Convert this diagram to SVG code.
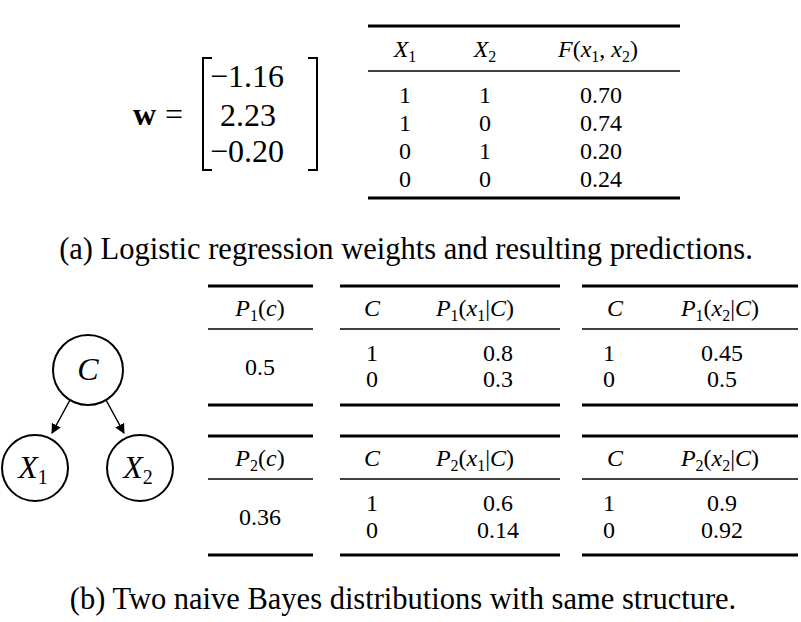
<svg xmlns="http://www.w3.org/2000/svg" width="801" height="622" viewBox="0 0 801 622">
<style>
text{font-family:"Liberation Serif","DejaVu Serif",serif;font-size:24px;fill:#000}
.m{font-style:italic}
.c{text-anchor:middle}
.cap{font-size:30.5px;text-anchor:middle}
.big{font-size:32px}
.thick{stroke:#000;stroke-width:3}
.thin{stroke:#000;stroke-width:1.5}
.n{fill:#fff;stroke:#000;stroke-width:2}
</style>
<defs><marker id="ah" markerWidth="10" markerHeight="10" refX="9" refY="5" orient="auto" markerUnits="userSpaceOnUse" viewBox="0 0 10 10"><path d="M0,0 L10,5 L0,10 z" fill="#000"/></marker></defs>
<g id="weights">
<text x="133" y="125" class="big" style="font-weight:bold">w</text>
<text x="165" y="125" class="big">=</text>
<path d="M212,58 H203 V170 H212 M308,58 H317 V170 H308" fill="none" stroke="#000" stroke-width="2"/>
<text x="210" y="87" class="big">−1.16</text>
<text x="220" y="126" class="big">2.23</text>
<text x="210" y="162" class="big">−0.20</text>
</g>
<g id="table-a">
<line x1="368" y1="26" x2="680" y2="26" class="thick"/>
<line x1="368" y1="71" x2="680" y2="71" class="thin"/>
<line x1="368" y1="198" x2="680" y2="198" class="thick"/>
<text x="405" y="57" class="c m">X<tspan font-size="16" dy="5" font-style="normal">1</tspan></text>
<text x="485" y="57" class="c m">X<tspan font-size="16" dy="5" font-style="normal">2</tspan></text>
<text x="598" y="57" class="c"><tspan class="m">F</tspan>(<tspan class="m">x</tspan><tspan font-size="16" dy="5">1</tspan><tspan dy="-5">, </tspan><tspan class="m">x</tspan><tspan font-size="16" dy="5">2</tspan><tspan dy="-5">)</tspan></text>
<text x="405" y="103" class="c">1</text><text x="485" y="103" class="c">1</text><text x="601" y="103" class="c">0.70</text>
<text x="405" y="131" class="c">1</text><text x="485" y="131" class="c">0</text><text x="601" y="131" class="c">0.74</text>
<text x="405" y="159" class="c">0</text><text x="485" y="159" class="c">1</text><text x="601" y="159" class="c">0.20</text>
<text x="405" y="187" class="c">0</text><text x="485" y="187" class="c">0</text><text x="601" y="187" class="c">0.24</text>
</g>
<text x="406" y="259" class="cap">(a) Logistic regression weights and resulting predictions.</text>
<g id="connectors">
<line x1="70" y1="400" x2="52" y2="433" stroke="#000" stroke-width="1.5" marker-end="url(#ah)"/>
<line x1="106" y1="400" x2="124" y2="433" stroke="#000" stroke-width="1.5" marker-end="url(#ah)"/>
</g>
<g id="node-C"><circle cx="88" cy="370" r="35" class="n"/><text x="88" y="380" class="c m big">C</text></g>
<g id="node-X1"><circle cx="35" cy="468" r="33" class="n"/><text x="33" y="478" class="c m big">X<tspan font-size="20" dy="6" font-style="normal">1</tspan></text></g>
<g id="node-X2"><circle cx="140" cy="468" r="33" class="n"/><text x="138" y="478" class="c m big">X<tspan font-size="20" dy="6" font-style="normal">2</tspan></text></g>
<g id="tables-b1">
<line x1="208" y1="286" x2="313" y2="286" class="thick"/><line x1="208" y1="329" x2="313" y2="329" class="thin"/><line x1="208" y1="405" x2="313" y2="405" class="thick"/>
<line x1="340" y1="286" x2="560" y2="286" class="thick"/><line x1="340" y1="329" x2="560" y2="329" class="thin"/><line x1="340" y1="405" x2="560" y2="405" class="thick"/>
<line x1="582" y1="286" x2="798" y2="286" class="thick"/><line x1="582" y1="329" x2="798" y2="329" class="thin"/><line x1="582" y1="405" x2="798" y2="405" class="thick"/>
<text x="260" y="316" class="c"><tspan class="m">P</tspan><tspan font-size="16" dy="5">1</tspan><tspan dy="-5">(</tspan><tspan class="m">c</tspan>)</text>
<text x="260" y="375" class="c">0.5</text>
<text x="372" y="316" class="c m">C</text>
<text x="475" y="316" class="c"><tspan class="m">P</tspan><tspan font-size="16" dy="5">1</tspan><tspan dy="-5">(</tspan><tspan class="m">x</tspan><tspan font-size="16" dy="5">1</tspan><tspan dy="-5">|</tspan><tspan class="m">C</tspan>)</text>
<text x="372" y="361" class="c">1</text><text x="498" y="361" class="c">0.8</text>
<text x="372" y="387" class="c">0</text><text x="498" y="387" class="c">0.3</text>
<text x="615" y="316" class="c m">C</text>
<text x="720" y="316" class="c"><tspan class="m">P</tspan><tspan font-size="16" dy="5">1</tspan><tspan dy="-5">(</tspan><tspan class="m">x</tspan><tspan font-size="16" dy="5">2</tspan><tspan dy="-5">|</tspan><tspan class="m">C</tspan>)</text>
<text x="609" y="361" class="c">1</text><text x="722" y="361" class="c">0.45</text>
<text x="609" y="387" class="c">0</text><text x="722" y="387" class="c">0.5</text>
</g>
<g id="tables-b2">
<line x1="208" y1="436" x2="313" y2="436" class="thick"/><line x1="208" y1="479" x2="313" y2="479" class="thin"/><line x1="208" y1="555" x2="313" y2="555" class="thick"/>
<line x1="340" y1="436" x2="560" y2="436" class="thick"/><line x1="340" y1="479" x2="560" y2="479" class="thin"/><line x1="340" y1="555" x2="560" y2="555" class="thick"/>
<line x1="582" y1="436" x2="798" y2="436" class="thick"/><line x1="582" y1="479" x2="798" y2="479" class="thin"/><line x1="582" y1="555" x2="798" y2="555" class="thick"/>
<text x="260" y="466" class="c"><tspan class="m">P</tspan><tspan font-size="16" dy="5">2</tspan><tspan dy="-5">(</tspan><tspan class="m">c</tspan>)</text>
<text x="260" y="525" class="c">0.36</text>
<text x="372" y="466" class="c m">C</text>
<text x="475" y="466" class="c"><tspan class="m">P</tspan><tspan font-size="16" dy="5">2</tspan><tspan dy="-5">(</tspan><tspan class="m">x</tspan><tspan font-size="16" dy="5">1</tspan><tspan dy="-5">|</tspan><tspan class="m">C</tspan>)</text>
<text x="372" y="511" class="c">1</text><text x="498" y="511" class="c">0.6</text>
<text x="372" y="538" class="c">0</text><text x="498" y="538" class="c">0.14</text>
<text x="615" y="466" class="c m">C</text>
<text x="720" y="466" class="c"><tspan class="m">P</tspan><tspan font-size="16" dy="5">2</tspan><tspan dy="-5">(</tspan><tspan class="m">x</tspan><tspan font-size="16" dy="5">2</tspan><tspan dy="-5">|</tspan><tspan class="m">C</tspan>)</text>
<text x="609" y="511" class="c">1</text><text x="722" y="511" class="c">0.9</text>
<text x="609" y="538" class="c">0</text><text x="722" y="538" class="c">0.92</text>
</g>
<text x="403" y="609" class="cap">(b) Two naive Bayes distributions with same structure.</text>
</svg>
